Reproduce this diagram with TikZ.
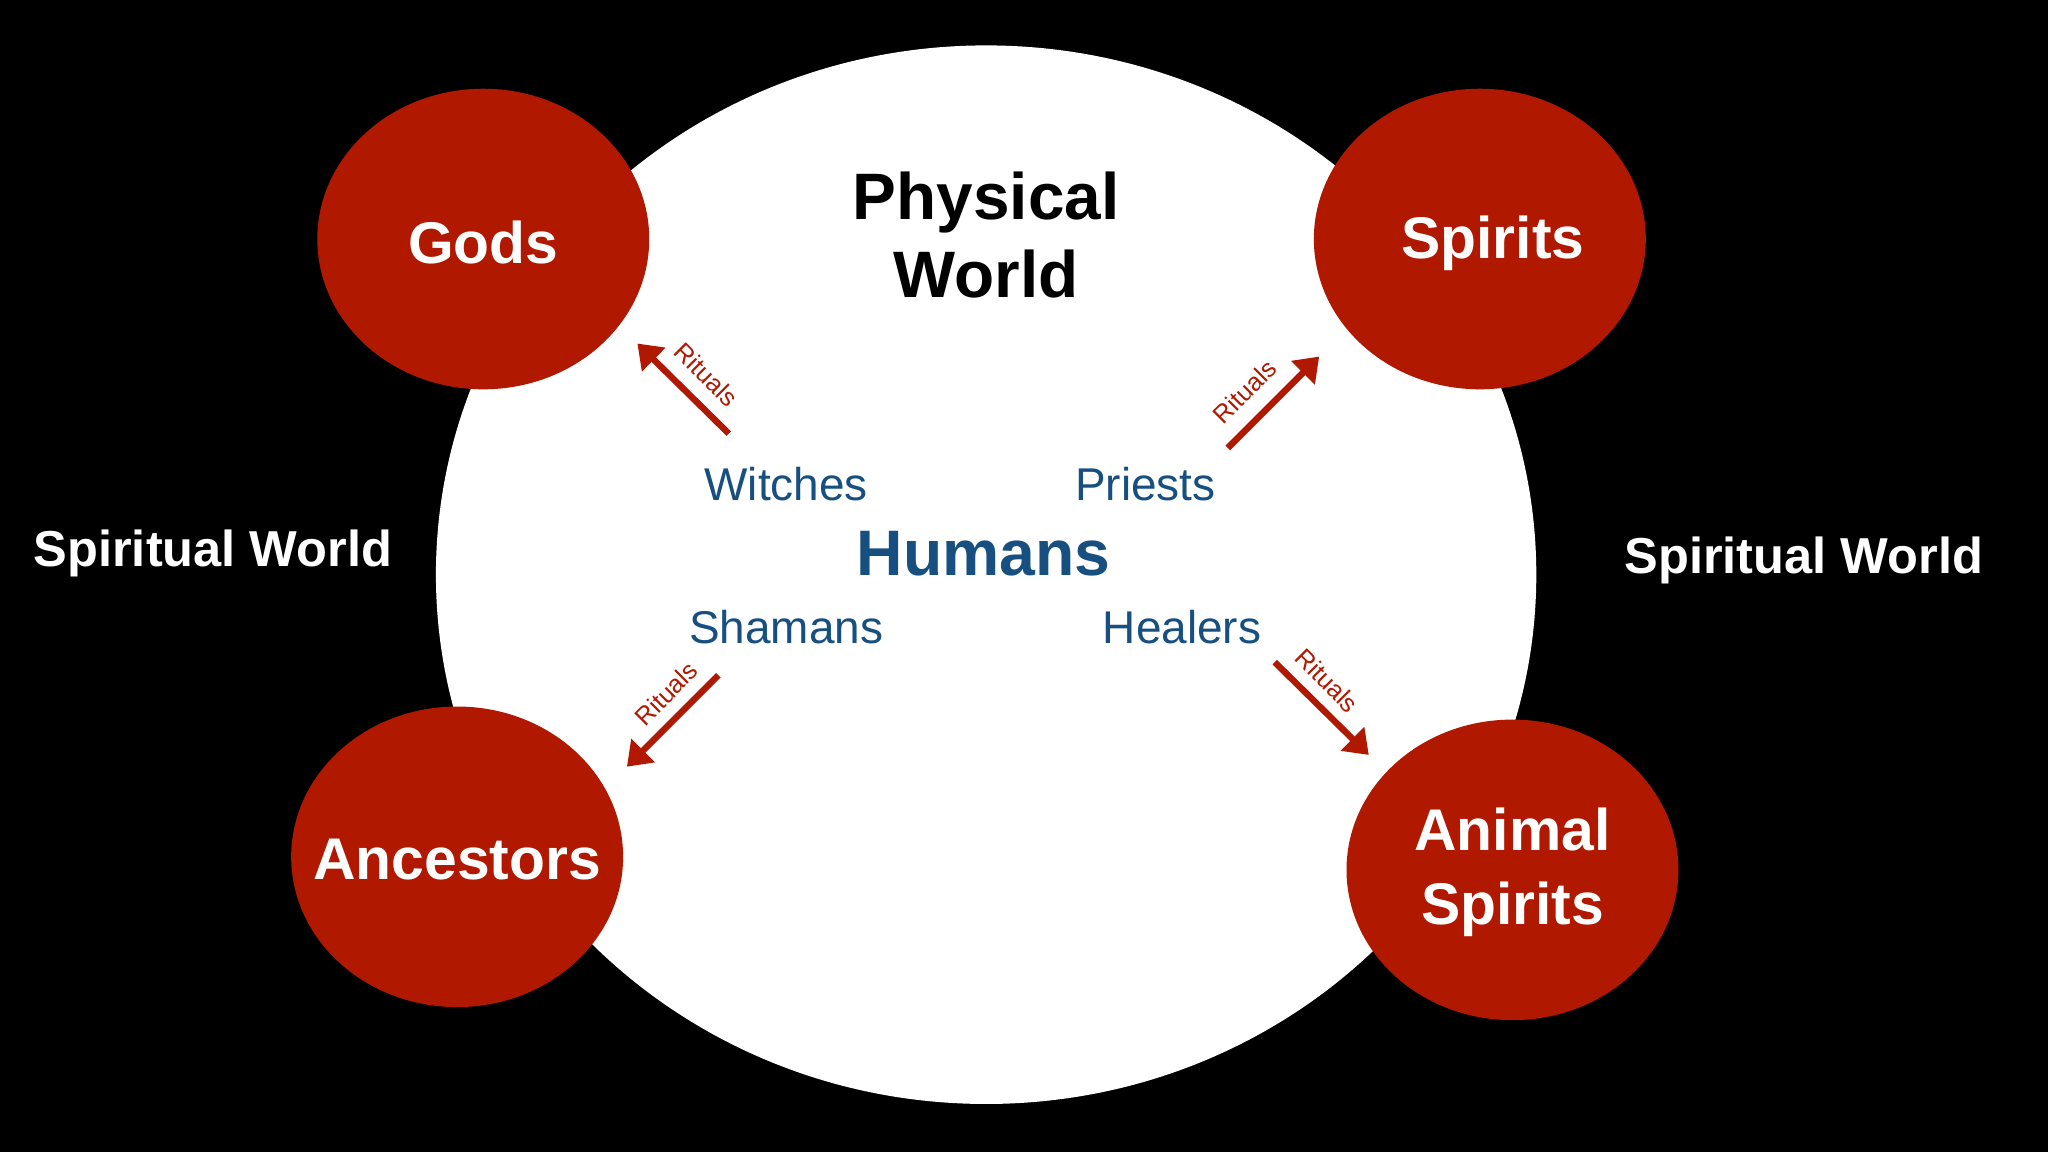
\documentclass[tikz,border=0pt]{standalone}
\usepackage{fontspec}
\setmainfont{Liberation Sans}
\usetikzlibrary{shapes.geometric,arrows.meta}
\definecolor{rd}{HTML}{B01800}
\definecolor{bl}{HTML}{174F80}
\tikzset{
 realm/.style={ellipse,fill=rd,minimum width=2.54cm,minimum height=2.3cm,inner sep=0pt},
 realmtxt/.style={text=white,font=\bfseries\fontsize{12.8}{16}\selectfont,align=center,inner sep=0pt},
 role/.style={text=bl,font=\fontsize{10}{12}\selectfont},
 spw/.style={text=white,font=\bfseries\fontsize{11}{13}\selectfont},
 rit/.style={draw=rd,line width=1.4pt,-{Triangle[length=5pt,width=7pt]}},
 ritlab/.style={text=rd,font=\fontsize{5.5}{6}\selectfont,inner sep=0pt}
}
\begin{document}
\begin{tikzpicture}[x=0.01cm,y=-0.01cm]
\fill[black] (0,0) rectangle (1568,882);
\useasboundingbox (0,0) rectangle (1568,882);
\node[ellipse,fill=white,minimum width=8.42cm,minimum height=8.1cm,inner sep=0pt] (world) at (755,440) {};
\node[realm] (gods) at (370,183) {};
\node[realm] (spirits) at (1133,183) {};
\node[realm] (anc) at (350,656) {};
\node[realm] (anim) at (1158,666) {};
\node[realmtxt] (godst) at (370,186) {Gods};
\node[realmtxt] (spiritst) at (1143,186) {Spirits};
\node[realmtxt] (anct) at (350,658) {Ancestors};
\node[realmtxt] (animt) at (1158,668) {Animal\\Spirits};
\node[align=center,font=\bfseries\fontsize{14.3}{17}\selectfont] (phys) at (755,180) {Physical\\World};
\node[text=bl,font=\bfseries\fontsize{14}{16}\selectfont] (hum) at (753,424) {Humans};
\node[role] (wit) at (602,371) {Witches};
\node[role] (pri) at (877,371) {Priests};
\node[role] (sha) at (602,480) {Shamans};
\node[role] (hea) at (905,480) {Healers};
\node[spw] (sl) at (163,424) {Spiritual World};
\node[spw] (sr) at (1381,429) {Spiritual World};
\coordinate (a1s) at (558,332); \coordinate (a1e) at (488,263);
\coordinate (a2s) at (940,343); \coordinate (a2e) at (1010,273);
\coordinate (a3s) at (550,517); \coordinate (a3e) at (480,587);
\coordinate (a4s) at (976,507); \coordinate (a4e) at (1048,578);
\draw[rit] (a1s) -- (a1e);
\draw[rit] (a2s) -- (a2e);
\draw[rit] (a3s) -- (a3e);
\draw[rit] (a4s) -- (a4e);
\node[ritlab,rotate=-45] (r1) at (541,287) {Rituals};
\node[ritlab,rotate=45] (r2) at (953,300) {Rituals};
\node[ritlab,rotate=45] (r3) at (510,531) {Rituals};
\node[ritlab,rotate=-45] (r4) at (1016,521) {Rituals};
\end{tikzpicture}
\end{document}
